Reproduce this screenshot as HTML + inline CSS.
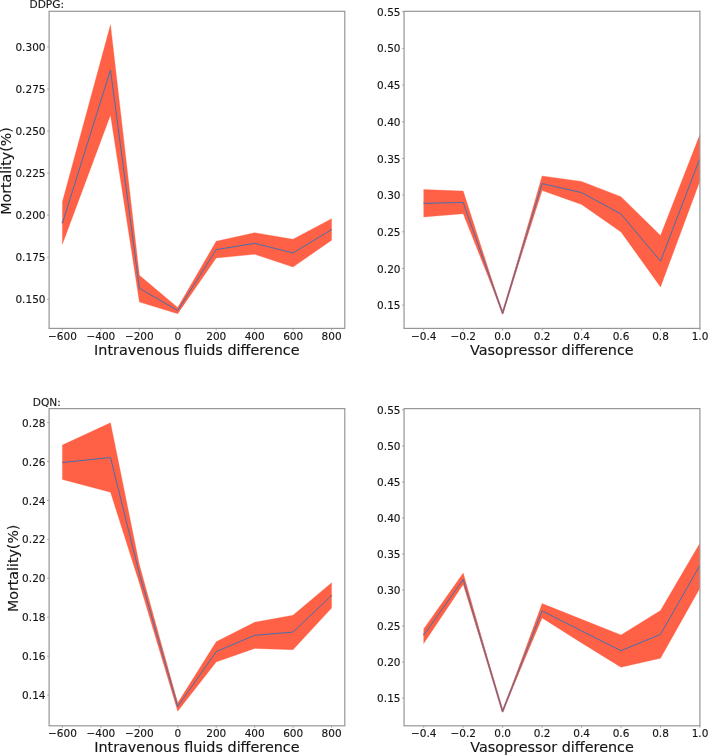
<!DOCTYPE html>
<html lang="en">
<head>
<meta charset="utf-8">
<title>Mortality vs dose difference</title>
<style>
html,body{margin:0;padding:0;background:#fff;}
body{width:708px;height:756px;overflow:hidden;}
svg{display:block;}
text{font-family:"DejaVu Sans", "Liberation Sans", sans-serif;fill:#151515;stroke:#151515;stroke-width:0.14px;}
.tk{font-size:10.5px;}
.lb{font-size:14.37px;}
.tt{font-size:10.6px;}
.yl{font-size:14.2px;}
</style>
</head>
<body>
<svg width="708" height="756" viewBox="0 0 708 756">
<rect x="0" y="0" width="708" height="756" fill="#ffffff"/>
<clipPath id="c0"><rect x="49.1" y="11.3" width="295.7" height="317.1"/></clipPath>
<g clip-path="url(#c0)">
<polygon points="62.4,201.7 110.5,24.7 139.4,275.3 177.7,307.6 216.2,241.3 254.6,232.7 293,239.2 331.6,218.7 331.6,240.3 293,267 254.6,254.2 216.2,258 177.7,313.7 139.4,302 110.5,115 62.4,244.2" fill="#fe6146" stroke="#fe6146" stroke-width="0.3" stroke-linejoin="round"/>
<polyline points="62.4,223.3 110.5,70 139.4,288.3 177.7,310.5 216.2,249.7 254.6,243.3 293,253 331.6,229.5" fill="none" stroke="#fe6146" stroke-width="2" stroke-linejoin="round"/>
<polyline points="62.4,223.3 110.5,70 139.4,288.3 177.7,310.5 216.2,249.7 254.6,243.3 293,253 331.6,229.5" fill="none" stroke="#3a72b4" stroke-width="0.95" stroke-linejoin="round"/>
</g>
<path d="M62.4,328.4v2M100.86,328.4v2M139.32,328.4v2M177.78,328.4v2M216.24,328.4v2M254.7,328.4v2M293.16,328.4v2M331.62,328.4v2M49.1,46.9h-2M49.1,88.97h-2M49.1,131.04h-2M49.1,173.11h-2M49.1,215.18h-2M49.1,257.25h-2M49.1,299.32h-2" stroke="#777" stroke-width="0.6" fill="none"/>
<rect x="49.1" y="11.3" width="295.7" height="317.1" fill="none" stroke="#969696" stroke-width="1.2"/>
<text class="tk" x="62.4" y="339.6" text-anchor="middle">−600</text>
<text class="tk" x="100.86" y="339.6" text-anchor="middle">−400</text>
<text class="tk" x="139.32" y="339.6" text-anchor="middle">−200</text>
<text class="tk" x="177.78" y="339.6" text-anchor="middle">0</text>
<text class="tk" x="216.24" y="339.6" text-anchor="middle">200</text>
<text class="tk" x="254.7" y="339.6" text-anchor="middle">400</text>
<text class="tk" x="293.16" y="339.6" text-anchor="middle">600</text>
<text class="tk" x="331.62" y="339.6" text-anchor="middle">800</text>
<text class="tk" x="45.5" y="51" text-anchor="end">0.300</text>
<text class="tk" x="45.5" y="93.07" text-anchor="end">0.275</text>
<text class="tk" x="45.5" y="135.14" text-anchor="end">0.250</text>
<text class="tk" x="45.5" y="177.21" text-anchor="end">0.225</text>
<text class="tk" x="45.5" y="219.28" text-anchor="end">0.200</text>
<text class="tk" x="45.5" y="261.35" text-anchor="end">0.175</text>
<text class="tk" x="45.5" y="303.42" text-anchor="end">0.150</text>
<text class="lb" x="196.8" y="355" text-anchor="middle">Intravenous fluids difference</text>
<text class="yl" transform="translate(10.5,171) rotate(-90)" text-anchor="middle">Mortality(%)</text>
<text class="tt" x="29.5" y="8.4">DDPG:</text>
<clipPath id="c1"><rect x="404.05" y="11.3" width="295.85" height="317.1"/></clipPath>
<g clip-path="url(#c1)">
<polygon points="423.7,189.5 463.2,191 502.6,313.2 542.1,176 581.6,181.4 621,196.7 660.5,235.6 700,134.3 700,180.7 660.5,287.1 621,231.9 581.6,204.5 542.1,190.6 502.6,313.2 463.2,213.7 423.7,217" fill="#fe6146" stroke="#fe6146" stroke-width="0.3" stroke-linejoin="round"/>
<polyline points="423.7,203.3 463.2,202.5 502.6,313.2 542.1,183.6 581.6,192.6 621,214 660.5,261.2 700,158.1" fill="none" stroke="#fe6146" stroke-width="2" stroke-linejoin="round"/>
<polyline points="423.7,203.3 463.2,202.5 502.6,313.2 542.1,183.6 581.6,192.6 621,214 660.5,261.2 700,158.1" fill="none" stroke="#3a72b4" stroke-width="0.95" stroke-linejoin="round"/>
</g>
<path d="M423.7,328.4v2M463.17,328.4v2M502.64,328.4v2M542.11,328.4v2M581.58,328.4v2M621.05,328.4v2M660.52,328.4v2M699.99,328.4v2M404.05,11.7h-2M404.05,48.38h-2M404.05,85.06h-2M404.05,121.74h-2M404.05,158.42h-2M404.05,195.1h-2M404.05,231.78h-2M404.05,268.46h-2M404.05,305.14h-2" stroke="#777" stroke-width="0.6" fill="none"/>
<rect x="404.05" y="11.3" width="295.85" height="317.1" fill="none" stroke="#969696" stroke-width="1.2"/>
<text class="tk" x="423.7" y="339.6" text-anchor="middle">−0.4</text>
<text class="tk" x="463.17" y="339.6" text-anchor="middle">−0.2</text>
<text class="tk" x="502.64" y="339.6" text-anchor="middle">0.0</text>
<text class="tk" x="542.11" y="339.6" text-anchor="middle">0.2</text>
<text class="tk" x="581.58" y="339.6" text-anchor="middle">0.4</text>
<text class="tk" x="621.05" y="339.6" text-anchor="middle">0.6</text>
<text class="tk" x="660.52" y="339.6" text-anchor="middle">0.8</text>
<text class="tk" x="699.99" y="339.6" text-anchor="middle">1.0</text>
<text class="tk" x="400.5" y="15.8" text-anchor="end">0.55</text>
<text class="tk" x="400.5" y="52.48" text-anchor="end">0.50</text>
<text class="tk" x="400.5" y="89.16" text-anchor="end">0.45</text>
<text class="tk" x="400.5" y="125.84" text-anchor="end">0.40</text>
<text class="tk" x="400.5" y="162.52" text-anchor="end">0.35</text>
<text class="tk" x="400.5" y="199.2" text-anchor="end">0.30</text>
<text class="tk" x="400.5" y="235.88" text-anchor="end">0.25</text>
<text class="tk" x="400.5" y="272.56" text-anchor="end">0.20</text>
<text class="tk" x="400.5" y="309.24" text-anchor="end">0.15</text>
<text class="lb" x="551.9" y="355" text-anchor="middle">Vasopressor difference</text>
<clipPath id="c2"><rect x="49.1" y="408.6" width="295.7" height="317.2"/></clipPath>
<g clip-path="url(#c2)">
<polygon points="62.4,445 110.5,422.8 139.4,564.8 177.7,703 216.2,641.7 254.6,622.3 293,615.2 331.6,582.7 331.6,608.1 293,649.7 254.6,648.5 216.2,661.9 177.7,711.2 139.4,583.2 110.5,492.2 62.4,479.5" fill="#fe6146" stroke="#fe6146" stroke-width="0.3" stroke-linejoin="round"/>
<polyline points="62.4,462.5 110.5,457.5 139.4,574 177.7,706.5 216.2,651.7 254.6,635.3 293,632.1 331.6,595.4" fill="none" stroke="#fe6146" stroke-width="2" stroke-linejoin="round"/>
<polyline points="62.4,462.5 110.5,457.5 139.4,574 177.7,706.5 216.2,651.7 254.6,635.3 293,632.1 331.6,595.4" fill="none" stroke="#3a72b4" stroke-width="0.95" stroke-linejoin="round"/>
</g>
<path d="M62.4,725.8v2M100.86,725.8v2M139.32,725.8v2M177.78,725.8v2M216.24,725.8v2M254.7,725.8v2M293.16,725.8v2M331.62,725.8v2M49.1,422.6h-2M49.1,461.53h-2M49.1,500.46h-2M49.1,539.39h-2M49.1,578.32h-2M49.1,617.25h-2M49.1,656.18h-2M49.1,695.11h-2" stroke="#777" stroke-width="0.6" fill="none"/>
<rect x="49.1" y="408.6" width="295.7" height="317.2" fill="none" stroke="#969696" stroke-width="1.2"/>
<text class="tk" x="62.4" y="737" text-anchor="middle">−600</text>
<text class="tk" x="100.86" y="737" text-anchor="middle">−400</text>
<text class="tk" x="139.32" y="737" text-anchor="middle">−200</text>
<text class="tk" x="177.78" y="737" text-anchor="middle">0</text>
<text class="tk" x="216.24" y="737" text-anchor="middle">200</text>
<text class="tk" x="254.7" y="737" text-anchor="middle">400</text>
<text class="tk" x="293.16" y="737" text-anchor="middle">600</text>
<text class="tk" x="331.62" y="737" text-anchor="middle">800</text>
<text class="tk" x="45.5" y="426.7" text-anchor="end">0.28</text>
<text class="tk" x="45.5" y="465.63" text-anchor="end">0.26</text>
<text class="tk" x="45.5" y="504.56" text-anchor="end">0.24</text>
<text class="tk" x="45.5" y="543.49" text-anchor="end">0.22</text>
<text class="tk" x="45.5" y="582.42" text-anchor="end">0.20</text>
<text class="tk" x="45.5" y="621.35" text-anchor="end">0.18</text>
<text class="tk" x="45.5" y="660.28" text-anchor="end">0.16</text>
<text class="tk" x="45.5" y="699.21" text-anchor="end">0.14</text>
<text class="lb" x="196.9" y="752.4" text-anchor="middle">Intravenous fluids difference</text>
<text class="yl" transform="translate(18.2,568.3) rotate(-90)" text-anchor="middle">Mortality(%)</text>
<text class="tt" x="32.8" y="405.9">DQN:</text>
<clipPath id="c3"><rect x="404.05" y="408.6" width="295.85" height="317.2"/></clipPath>
<g clip-path="url(#c3)">
<polygon points="423.7,628.9 463.2,573.1 502.6,711.4 542.1,603.5 581.6,619.3 621,634.9 660.5,610.5 700,543.1 700,587.9 660.5,658.3 621,667.3 581.6,642.9 542.1,618 502.6,711.4 463.2,584.4 423.7,643.5" fill="#fe6146" stroke="#fe6146" stroke-width="0.3" stroke-linejoin="round"/>
<polyline points="423.7,635.2 463.2,579.5 502.6,711.4 542.1,610.9 581.6,630.9 621,650.7 660.5,634.4 700,565.2" fill="none" stroke="#fe6146" stroke-width="2" stroke-linejoin="round"/>
<polyline points="423.7,635.2 463.2,579.5 502.6,711.4 542.1,610.9 581.6,630.9 621,650.7 660.5,634.4 700,565.2" fill="none" stroke="#3a72b4" stroke-width="0.95" stroke-linejoin="round"/>
</g>
<path d="M423.7,725.8v2M463.17,725.8v2M502.64,725.8v2M542.11,725.8v2M581.58,725.8v2M621.05,725.8v2M660.52,725.8v2M699.99,725.8v2M404.05,409.9h-2M404.05,445.93h-2M404.05,481.96h-2M404.05,517.99h-2M404.05,554.02h-2M404.05,590.05h-2M404.05,626.08h-2M404.05,662.11h-2M404.05,698.14h-2" stroke="#777" stroke-width="0.6" fill="none"/>
<rect x="404.05" y="408.6" width="295.85" height="317.2" fill="none" stroke="#969696" stroke-width="1.2"/>
<text class="tk" x="423.7" y="737" text-anchor="middle">−0.4</text>
<text class="tk" x="463.17" y="737" text-anchor="middle">−0.2</text>
<text class="tk" x="502.64" y="737" text-anchor="middle">0.0</text>
<text class="tk" x="542.11" y="737" text-anchor="middle">0.2</text>
<text class="tk" x="581.58" y="737" text-anchor="middle">0.4</text>
<text class="tk" x="621.05" y="737" text-anchor="middle">0.6</text>
<text class="tk" x="660.52" y="737" text-anchor="middle">0.8</text>
<text class="tk" x="699.99" y="737" text-anchor="middle">1.0</text>
<text class="tk" x="400.5" y="414" text-anchor="end">0.55</text>
<text class="tk" x="400.5" y="450.03" text-anchor="end">0.50</text>
<text class="tk" x="400.5" y="486.06" text-anchor="end">0.45</text>
<text class="tk" x="400.5" y="522.09" text-anchor="end">0.40</text>
<text class="tk" x="400.5" y="558.12" text-anchor="end">0.35</text>
<text class="tk" x="400.5" y="594.15" text-anchor="end">0.30</text>
<text class="tk" x="400.5" y="630.18" text-anchor="end">0.25</text>
<text class="tk" x="400.5" y="666.21" text-anchor="end">0.20</text>
<text class="tk" x="400.5" y="702.24" text-anchor="end">0.15</text>
<text class="lb" x="552" y="752.4" text-anchor="middle">Vasopressor difference</text>
</svg>
</body>
</html>
